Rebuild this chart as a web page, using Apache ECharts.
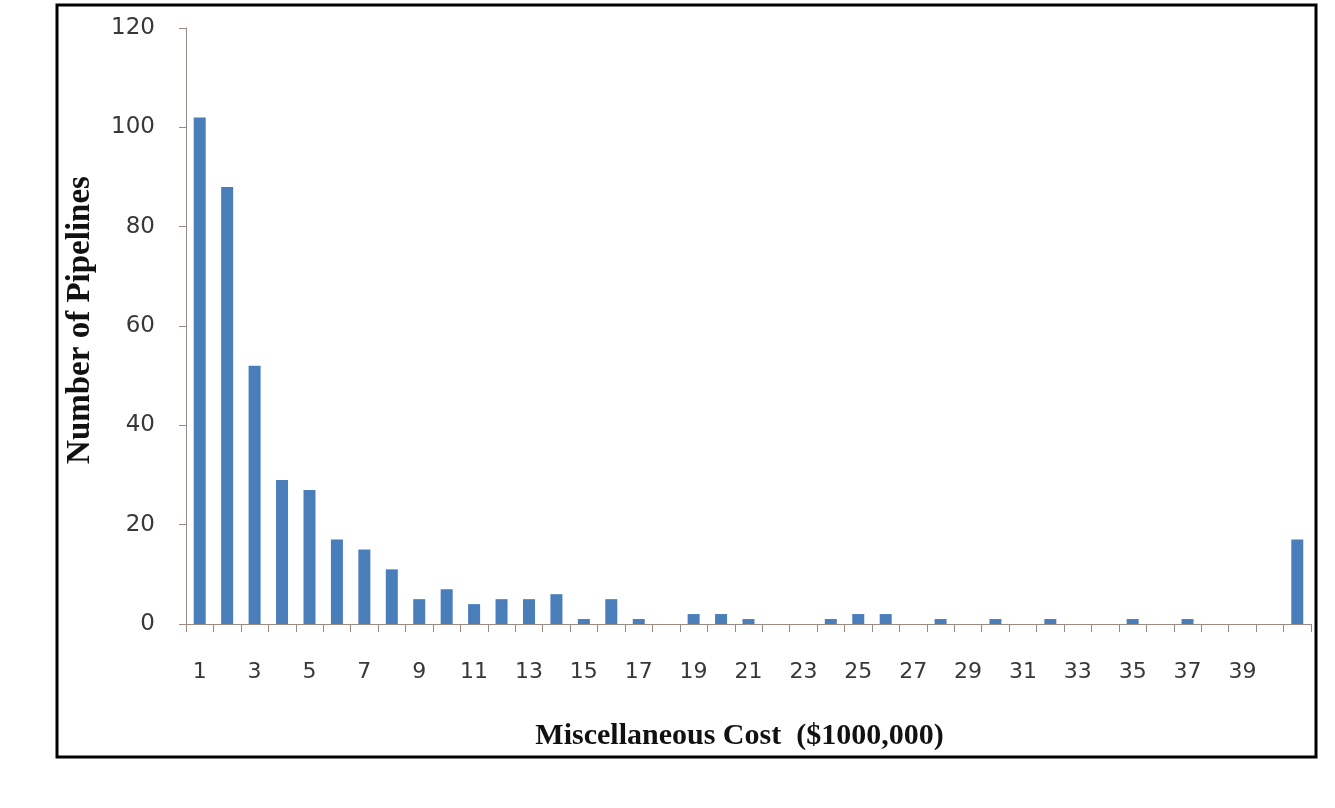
<!DOCTYPE html>
<html><head><meta charset="utf-8">
<script src="https://cdn.jsdelivr.net/npm/echarts@6/dist/echarts.min.js"></script>
<style>html,body{margin:0;padding:0;background:#fff}#c{width:1335px;height:808px}</style>
</head><body><div id="c"></div>
<script>
const categories = ['1','2','3','4','5','6','7','8','9','10','11','12','13','14','15','16','17','18','19','20','21','22','23','24','25','26','27','28','29','30','31','32','33','34','35','36','37','38','39','40',''];
const pipelines = [102,88,52,29,27,17,15,11,5,7,4,5,5,6,1,5,1,0,2,2,1,0,0,1,2,2,0,1,0,1,0,1,0,0,1,0,1,0,0,0,17];
const yTicks = {min:0, max:120, interval:20};
const xTitle = 'Miscellaneous Cost  ($1000,000)';
const yTitle = 'Number of Pipelines';

const chart = echarts.init(document.getElementById('c'), null, {renderer:'canvas'});
const axisColor = '#9a8a80';
chart.setOption({
  animation:false,
  backgroundColor:'#fff',
  grid:{left:186, right:24, top:28, bottom:184},
  xAxis:{
    type:'category', data:categories, boundaryGap:true,
    axisLine:{lineStyle:{color:axisColor, width:1}},
    axisTick:{show:true, interval:0, length:8, lineStyle:{color:axisColor}},
    axisLabel:{interval:1, color:'#383838', fontFamily:'DejaVu Sans', fontSize:22, margin:37},
    name:xTitle, nameLocation:'middle', nameGap:97,
    nameTextStyle:{fontFamily:'Liberation Serif', fontWeight:'bold', fontSize:30, color:'#111', padding:[0,18,0,0]}
  },
  yAxis:{
    type:'value', min:yTicks.min, max:yTicks.max, interval:yTicks.interval,
    splitLine:{show:false},
    axisLine:{show:true, lineStyle:{color:axisColor, width:1}},
    axisTick:{show:true, length:7, lineStyle:{color:axisColor}},
    axisLabel:{color:'#383838', fontFamily:'DejaVu Sans', fontSize:23, margin:31},
    name:yTitle, nameLocation:'middle', nameGap:89, nameRotate:90,
    nameTextStyle:{fontFamily:'Liberation Serif', fontWeight:'bold', fontSize:33, color:'#111', padding:[0,0,0,12]}
  },
  series:[{
    type:'bar', data:pipelines, barWidth:12,
    itemStyle:{color:'#4a7ebb'}
  }],
  graphic:[{
    type:'rect', shape:{x:57, y:5, width:1259, height:752},
    style:{fill:null, stroke:'#000', lineWidth:3}, silent:true
  }]
});
</script></body></html>
